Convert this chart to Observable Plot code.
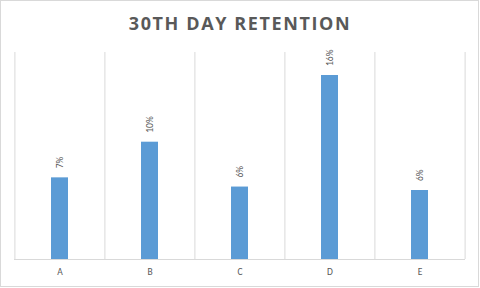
<!DOCTYPE html>
<html>
<head>
<meta charset="utf-8">
<script src="https://cdn.jsdelivr.net/npm/d3@7"></script>
<script src="https://cdn.jsdelivr.net/npm/@observablehq/plot@0.6"></script>
<style>
  html, body { margin: 0; padding: 0; background: #fff; }
  #wrap { position: relative; width: 480px; height: 288px; overflow: hidden; }
  #border { position: absolute; left: 0; top: 0; width: 479px; height: 287px; box-sizing: border-box; border: 1px solid #d9d9d9; pointer-events: none; }
  #title { height: 40px; box-sizing: border-box; padding-top: 14px; text-align: center; font-family: "Open Sans", sans-serif; font-weight: bold; font-size: 18px; line-height: 18px; letter-spacing: 1.6px; color: #595959; }
  #chart svg { display: block; }
</style>
</head>
<body>
<div id="wrap">
  <div id="title">30TH DAY RETENTION</div>
  <div id="chart"></div>
  <div id="border"></div>
</div>
<script>
const categories = ["A", "B", "C", "D", "E"];
const values = [0.071, 0.102, 0.063, 0.16, 0.060];
const labels = ["7%", "10%", "6%", "16%", "6%"];

const data = categories.map((c, i) => ({cat: c, value: values[i], label: labels[i]}));

const width = 480, height = 248;
const marginLeft = 14, marginRight = 15, marginTop = 12, marginBottom = 29;
const halfStep = (width - marginLeft - marginRight) / categories.length / 2;
const grid = "#d9d9d9";
const textColor = "#595959";

const chart = Plot.plot({
  width, height, marginLeft, marginRight, marginTop, marginBottom,
  style: { fontFamily: "Calibri, Carlito, 'Open Sans', sans-serif", fontSize: "9.5px", color: textColor, background: "transparent" },
  x: { domain: categories, paddingInner: 0.81, paddingOuter: 0.405, label: null, tickSize: 0, tickPadding: 9 },
  y: { domain: [0, 0.18], axis: null },
  marks: [
    Plot.ruleX(categories, { x: d => d, dx: -halfStep, stroke: grid }),
    Plot.ruleX([categories[categories.length - 1]], { x: d => d, dx: halfStep, stroke: grid }),
    Plot.barY(data, { x: "cat", y: "value", fill: "#5b9bd5" }),
    Plot.ruleY([0], { stroke: grid }),
    Plot.text(data, { x: "cat", y: "value", text: "label", rotate: -90, textAnchor: "start", lineAnchor: "middle", dy: -9.5, fill: textColor, fontSize: 9.5 }),
    Plot.axisX({ tickSize: 0, tickPadding: 9, fill: textColor, fontSize: 9.5 })
  ]
});
document.getElementById("chart").appendChild(chart);
</script>
</body>
</html>
